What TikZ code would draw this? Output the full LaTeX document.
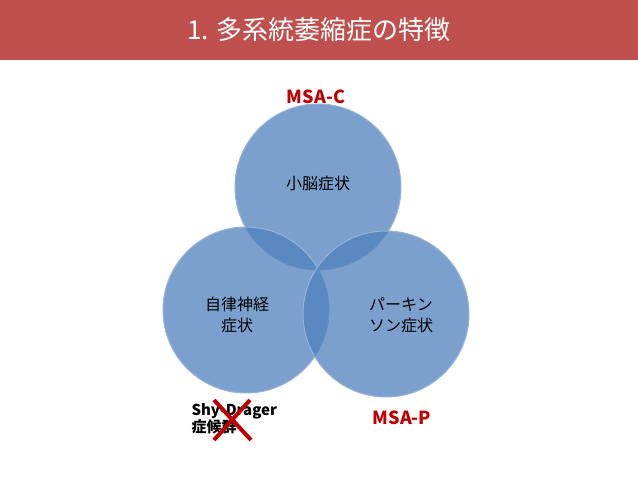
\documentclass[tikz,border=0pt]{standalone}
\usepackage{fontspec}
\setmainfont{Noto Sans CJK JP}
\begin{document}
\begin{tikzpicture}[x=1pt,y=-1pt]
\definecolor{bar}{RGB}{192,80,77}
\definecolor{circ}{RGB}{79,129,189}
\definecolor{redt}{RGB}{192,0,0}
\tikzset{venn/.style={circle,minimum size=166pt,draw=circ!60!white,line width=1pt,fill=circ,fill opacity=0.75,text opacity=1},
lbl/.style={font=\fontsize{16}{21}\selectfont,align=center,text=black},
msa/.style={font=\fontsize{18}{20}\selectfont\bfseries,text=redt}}
\useasboundingbox (0,0) rectangle (638,478);
\fill[white] (0,0) rectangle (638,478);
\fill[bar] (0,0) rectangle (638,60);
\node[text=white,font=\fontsize{26}{30}\selectfont] (title) at (319,30) {1. 多系統萎縮症の特徴};
\node[venn] (c1) at (318,187) {};
\node[venn] (c2) at (246,310) {};
\node[venn] (c3) at (386,314) {};
\node[lbl] (t1) at (318,183) {小脳症状};
\node[lbl] (t2) at (237,315) {自律神経\\症状};
\node[lbl] (t3) at (401,315) {パーキン\\ソン症状};
\node[msa] (m1) at (316,97) {MSA-C};
\node[msa] (m2) at (402,418) {MSA-P};
\node[lbl,align=left,anchor=west,font=\fontsize{15}{17}\selectfont\bfseries] (sd) at (188,419) {Shy-Drager\\症候群};
\coordinate (xa) at (214,400); \coordinate (xb) at (251,440);
\coordinate (xc) at (250,400); \coordinate (xd) at (214,440);
\draw[redt,line width=4pt] (xa) -- (xb) (xc) -- (xd);
\end{tikzpicture}
\end{document}
